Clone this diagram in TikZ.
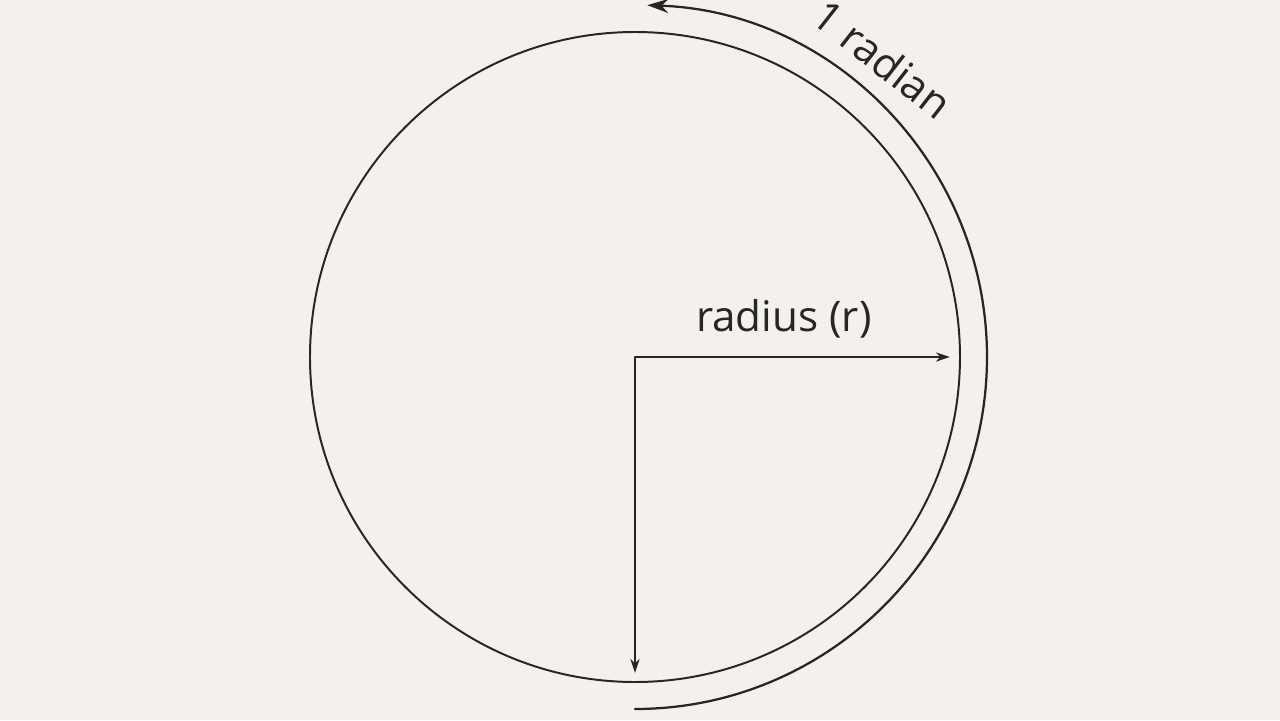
\documentclass[tikz,border=0pt]{standalone}
\usepackage{fontspec}
\setmainfont{Open Sans}
\usetikzlibrary{arrows.meta}
\definecolor{paper}{RGB}{244,241,236}
\definecolor{ink}{RGB}{38,38,38}
\begin{document}
\begin{tikzpicture}[line join=round,line cap=round,>={Stealth[length=10pt,width=6.5pt]},font=\fontsize{30}{36}\selectfont]
	\def\r{8.125}
	\def\R{8.8}
	% nền
	\fill[paper] (-15.875,-9.075) rectangle (16.125,8.925);
	\useasboundingbox (-15.875,-9.075) rectangle (16.125,8.925);
	\coordinate (O) at (0,0);
	\coordinate (A) at (7.875,0);
	\coordinate (B) at (0,-7.9);
	% đường tròn
	\draw[ink,line width=1.4pt] (O) circle (\r);
	% bán kính
	\draw[->,ink,line width=1pt] (O)--(A);
	\draw[->,ink,line width=1pt] (O)--(B);
	\node[ink] (lbR) at (3.72,0.95) {radius (r)};
	% cung 1 radian
	\draw[->,ink,line width=1.6pt,>={Stealth[length=15pt,width=10pt]}] (-90:\R) arc (-90:88:\R);
	\node[ink,rotate=-38] (lbArc) at (6.2,7.45) {1 radian};
\end{tikzpicture}
\end{document}
